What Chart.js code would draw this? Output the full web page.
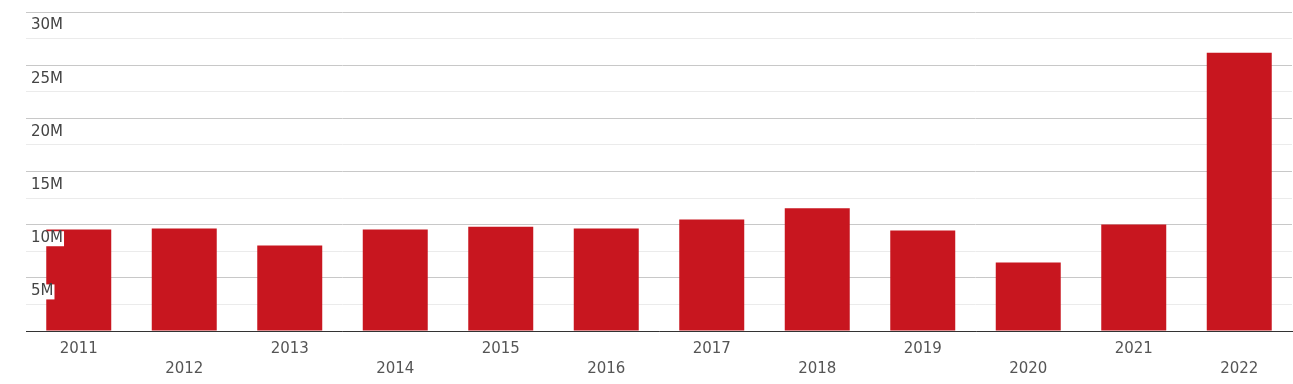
<!DOCTYPE html>
<html>
<head>
<meta charset="utf-8">
<script src="https://cdn.jsdelivr.net/npm/chart.js@4/dist/chart.umd.min.js"></script>
<style>
  html, body { margin: 0; padding: 0; background: #fff; }
  #wrap { width: 1293px; height: 384px; position: relative; }
</style>
</head>
<body>
<div id="wrap"><canvas id="c" width="1293" height="384"></canvas></div>
<script>
const categories = ['2011','2012','2013','2014','2015','2016','2017','2018','2019','2020','2021','2022'];
const values = [9.56, 9.65, 8.05, 9.56, 9.8, 9.65, 10.5, 11.54, 9.46, 6.44, 10.03, 26.16];
const yTicks = [5, 10, 15, 20, 25, 30];

const xLabels = categories.map((c, i) => i % 2 === 0 ? [c] : ['', c]);

const yLabelPlugin = {
  id: 'yLabels',
  afterDatasetsDraw(chart) {
    const ctx = chart.ctx;
    const y = chart.scales.y;
    const left = chart.chartArea.left;
    ctx.save();
    ctx.font = '15px "DejaVu Sans"';
    ctx.textBaseline = 'middle';
    ctx.textAlign = 'left';
    yTicks.forEach(v => {
      const label = v + 'M';
      const py = y.getPixelForValue(v) + 13.5;
      const w = ctx.measureText(label).width;
      ctx.fillStyle = '#fff';
      ctx.fillRect(left + 4, py - 7, w + 2, 15);
      ctx.fillStyle = '#444';
      ctx.fillText(label, left + 5, py);
    });
    ctx.restore();
  }
};

new Chart(document.getElementById('c'), {
  type: 'bar',
  data: {
    labels: xLabels,
    datasets: [{
      data: values,
      backgroundColor: '#c8161f',
      barPercentage: 0.616,
      categoryPercentage: 1.0
    }]
  },
  options: {
    responsive: false,
    animation: false,
    layout: { padding: { left: 26, right: 1, top: 12, bottom: -3 } },
    plugins: { legend: { display: false }, tooltip: { enabled: false } },
    scales: {
      x: {
        grid: { display: false, drawTicks: false },
        border: { display: true, color: '#333', width: 1 },
        ticks: {
          color: '#555',
          font: { family: 'DejaVu Sans', size: 15, lineHeight: 1.33 },
          padding: 8,
          maxRotation: 0,
          autoSkip: false
        }
      },
      y: {
        min: 0,
        max: 30,
        border: { display: false },
        grid: {
          drawTicks: false,
          color: (ctx) => {
            const v = ctx.tick ? ctx.tick.value : 0;
            return (Math.abs(v % 5) < 1e-6) ? '#c8c8c8' : '#ebebeb';
          },
          lineWidth: 1
        },
        afterBuildTicks: (scale) => {
          const t = [];
          for (let v = 0; v <= 30; v += 2.5) t.push({ value: v });
          scale.ticks = t;
        },
        ticks: { display: false }
      }
    }
  },
  plugins: [yLabelPlugin]
});
</script>
</body>
</html>
